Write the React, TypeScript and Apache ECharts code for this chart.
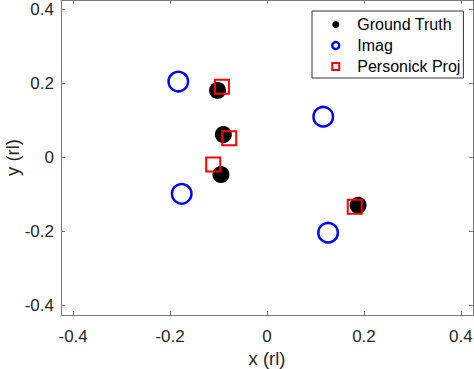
import React, { useEffect, useRef } from 'react';
import * as echarts from 'echarts';

// ---- data ----
const seriesNames = ['Ground Truth', 'Imag', 'Personick Proj'];
const groundTruthX = [-0.102, -0.09, -0.095, 0.188];
const groundTruthY = [0.181, 0.062, -0.046, -0.129];
const imagX = [-0.183, -0.176, 0.116, 0.126];
const imagY = [0.205, -0.098, 0.11, -0.203];
const personickX = [-0.093, -0.078, -0.111, 0.181];
const personickY = [0.191, 0.052, -0.019, -0.133];
const tickValues = [-0.4, -0.2, 0, 0.2, 0.4];
const tickLabels = ['-0.4', '-0.2', '0', '0.2', '0.4'];
const axisMin = -0.425;
const axisMax = 0.425;
const xAxisTitle = 'x (rl)';
const yAxisTitle = 'y (rl)';

const FONT = '"Liberation Sans", Arial, Helvetica, sans-serif';
const TEXT = '#262626';
const AXIS = '#7a7a7a';

const fmt = (v: number) => {
  const i = tickValues.findIndex((t) => Math.abs(t - v) < 1e-6);
  return i >= 0 ? tickLabels[i] : '';
};

const zip = (xs: number[], ys: number[]) => xs.map((x, i) => [x, ys[i]]);

const baseAxis = (extra: any) => ({
  type: 'value',
  min: axisMin,
  max: axisMax,
  splitNumber: 4,
  splitLine: { show: false },
  axisLine: { show: true, onZero: false, lineStyle: { color: AXIS, width: 1 } },
  axisTick: { show: true, inside: true, length: 4, lineStyle: { color: AXIS, width: 1 } },
  ...extra,
});

export default function App() {
  const ref = useRef<HTMLDivElement>(null);
  useEffect(() => {
    if (!ref.current) return;
    const chart = echarts.init(ref.current, undefined, { renderer: 'svg' });
    chart.setOption({
      animation: false,
      backgroundColor: '#ffffff',
      grid: { left: 61, right: 1, top: 0, bottom: 54, containLabel: false, outerBoundsMode: 'none' },
      xAxis: [
        baseAxis({
          position: 'bottom',
          name: xAxisTitle,
          nameLocation: 'middle',
          nameGap: 34,
          nameMoveOverlap: false,
          nameTextStyle: { color: TEXT, fontFamily: FONT, fontSize: 18.5 },
          axisLabel: { show: true, formatter: fmt, color: TEXT, fontFamily: FONT, fontSize: 17, margin: 13 },
        }),
        baseAxis({ position: 'top', axisLabel: { show: false } }),
      ],
      yAxis: [
        baseAxis({
          position: 'left',
          name: yAxisTitle,
          nameLocation: 'middle',
          nameGap: 39,
          nameRotate: 90,
          nameMoveOverlap: false,
          nameTextStyle: { color: TEXT, fontFamily: FONT, fontSize: 18.5 },
          axisLabel: { show: true, formatter: fmt, color: TEXT, fontFamily: FONT, fontSize: 17, margin: 7 },
        }),
        baseAxis({ position: 'right', axisLabel: { show: false } }),
      ],
      legend: {
        orient: 'vertical',
        left: 312,
        top: 11,
        padding: [3, 3, 1, 19],
        itemGap: 0,
        itemWidth: 7,
        itemHeight: 7,
        borderColor: '#333333',
        borderWidth: 1,
        backgroundColor: '#ffffff',
        borderRadius: 0,
        textStyle: { color: '#000000', fontFamily: FONT, fontSize: 16, lineHeight: 21, padding: [0, 0, 0, 13] },
        data: [
          { name: seriesNames[0], icon: 'circle', itemStyle: { color: '#000000', borderWidth: 0 } },
          { name: seriesNames[1], icon: 'circle', itemStyle: { color: 'rgba(0,0,0,0)', borderColor: '#0000ff', borderWidth: 2.5 } },
          { name: seriesNames[2], icon: 'rect', itemStyle: { color: 'rgba(0,0,0,0)', borderColor: '#ff0000', borderWidth: 2 } },
        ],
      },
      series: [
        {
          name: seriesNames[0],
          type: 'scatter',
          symbol: 'circle',
          symbolSize: 17,
          itemStyle: { color: '#000000', opacity: 1 },
          data: zip(groundTruthX, groundTruthY),
          silent: true,
        },
        {
          name: seriesNames[1],
          type: 'scatter',
          symbol: 'circle',
          symbolSize: 19.5,
          itemStyle: { color: 'rgba(0,0,0,0)', borderColor: '#0000ff', borderWidth: 2.5, opacity: 1 },
          data: zip(imagX, imagY),
          silent: true,
        },
        {
          name: seriesNames[2],
          type: 'scatter',
          symbol: 'rect',
          symbolSize: 14,
          itemStyle: { color: 'rgba(0,0,0,0)', borderColor: '#ff0000', borderWidth: 2, opacity: 1 },
          data: zip(personickX, personickY),
          silent: true,
        },
      ],
    });
    return () => chart.dispose();
  }, []);
  return (
    <div
      ref={ref}
      style={{ position: 'fixed', left: 0, top: 0, width: 474, height: 369, background: '#fff' }}
    />
  );
}
